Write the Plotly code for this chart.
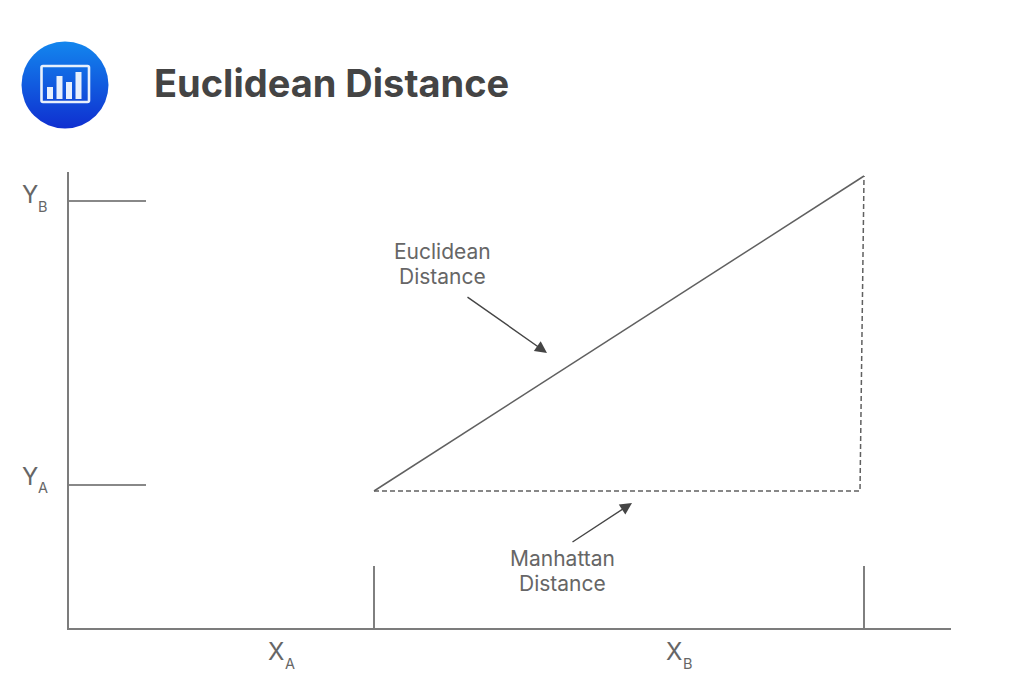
"""
Euclidean vs Manhattan distance diagram
"""
import base64

import plotly.graph_objects as go

INK = "#606060"
TEXT = "#666666"

# chart values, axis units are the same size as page pixels
x_a = 305
x_b = 795
y_a = 143
y_b = 427
y_low = 137
y_high = 452

euclid_x = [x_a, x_b]
euclid_y = [y_low, y_high]
manhattan_x = [x_a, 791, x_b]
manhattan_y = [y_low, y_low, y_high]

y_tick_values = [y_a, y_b]
y_tick_letters = ["Y", "Y"]
y_tick_subs = ["A", "B"]
x_tick_values = [x_a, x_b]
x_tick_letters = ["X", "X"]
x_tick_subs = ["A", "B"]
y_tick_length = 77
x_tick_height = 62

PLOT_W = 882
PLOT_H = 456

icon_svg = """<svg xmlns="http://www.w3.org/2000/svg" viewBox="0 0 88 88">
<defs><linearGradient id="g" x1="0" y1="0" x2="0" y2="1">
<stop offset="0" stop-color="#1386ee"/><stop offset="1" stop-color="#0f2fd0"/>
</linearGradient></defs>
<circle cx="44" cy="44" r="43.5" fill="url(#g)"/>
<rect x="20.5" y="25" width="47.5" height="36" rx="1.5" fill="none" stroke="#e8f0fc" stroke-width="2.6"/>
<rect x="26" y="46" width="6" height="12" fill="#e8f0fc"/>
<rect x="35.5" y="35" width="6" height="23" fill="#e8f0fc"/>
<rect x="45" y="41" width="6" height="17" fill="#e8f0fc"/>
<rect x="54.5" y="31" width="6" height="27" fill="#e8f0fc"/>
</svg>"""
icon_uri = "data:image/svg+xml;base64," + base64.b64encode(icon_svg.encode()).decode()

fig = go.Figure()

fig.add_trace(go.Scatter(x=euclid_x, y=euclid_y, mode="lines",
                         line=dict(color=INK, width=1.5), hoverinfo="skip"))
fig.add_trace(go.Scatter(x=manhattan_x, y=manhattan_y, mode="lines",
                         line=dict(color=INK, width=1.5, dash="5px,3px"),
                         hoverinfo="skip"))

# the long tick marks
for value in y_tick_values:
    fig.add_trace(go.Scatter(x=[0, y_tick_length], y=[value, value], mode="lines",
                             line=dict(color=INK, width=1.6), hoverinfo="skip"))
for value in x_tick_values:
    fig.add_trace(go.Scatter(x=[value, value], y=[0, x_tick_height], mode="lines",
                             line=dict(color=INK, width=1.6), hoverinfo="skip"))


def page_text(px, py, text, size=21, color=TEXT, xanchor="center"):
    # px, py are page pixels, annotations outside the axes need paper refs
    fig.add_annotation(xref="paper", yref="paper", x=(px - 69) / PLOT_W, y=(628 - py) / PLOT_H,
                       xanchor=xanchor, yanchor="middle", text=text, showarrow=False,
                       font=dict(family="Inter", size=size, color=color))


def arrow(x, y, ax, ay):
    fig.add_annotation(x=x, y=y, ax=ax, ay=ay, axref="x", ayref="y", text="",
                       showarrow=True, arrowhead=2, arrowsize=1.7, arrowwidth=1.4,
                       arrowcolor="#454545")


page_text(442, 251, "Euclidean")
page_text(442, 276, "Distance")
page_text(562, 558, "Manhattan")
page_text(562, 583, "Distance")
arrow(478, 275, 397, 332)
arrow(563, 125, 502, 85)

# subscripts are separate texts so they can sit low like in the original
for py, letter, sub in zip([476, 194], y_tick_letters, y_tick_subs):
    page_text(30, py, letter, size=24)
    page_text(43, py + 12, sub, size=14.5)
for px, letter, sub in zip([276, 674], x_tick_letters, x_tick_subs):
    page_text(px, 651, letter, size=24)
    page_text(px + 13.5, 663, sub, size=14.5)

page_text(152, 83, "<b>Euclidean Distance</b>", size=38, color="#444444", xanchor="left")

fig.update_layout(
    width=1024, height=689, showlegend=False,
    margin=dict(l=69, r=73, t=172, b=61),
    paper_bgcolor="white", plot_bgcolor="white",
    images=[dict(source=icon_uri, xref="paper", yref="paper",
                 x=(21 - 69) / PLOT_W, y=(628 - 41) / PLOT_H,
                 sizex=88 / PLOT_W, sizey=88 / PLOT_H,
                 xanchor="left", yanchor="top", layer="above")],
)
fig.update_xaxes(range=[0, PLOT_W], showgrid=False, zeroline=False, showticklabels=False,
                 ticks="", showline=True, linecolor="#7c7c7c", linewidth=2)
fig.update_yaxes(range=[0, PLOT_H], showgrid=False, zeroline=False, showticklabels=False,
                 ticks="", showline=True, linecolor="#7c7c7c", linewidth=2)

fig.write_html("out.html", config=dict(displayModeBar=False),
               post_script="document.body.style.margin = '0';")
